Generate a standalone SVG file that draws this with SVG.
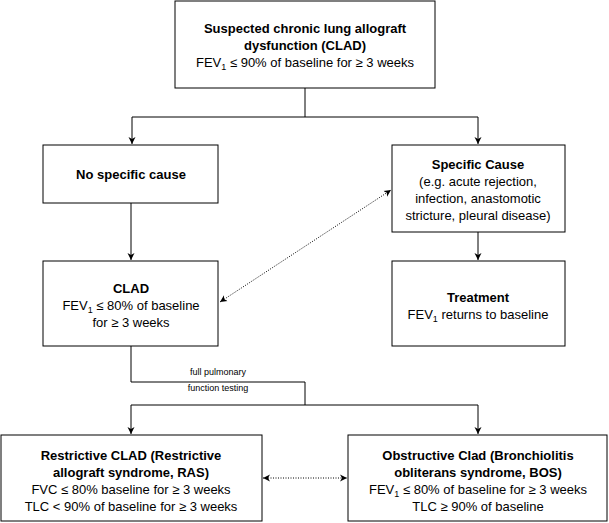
<svg xmlns="http://www.w3.org/2000/svg" width="609" height="523" viewBox="0 0 609 523">
<style>
.b{fill:#fff;stroke:#000;stroke-width:1}
text{font-family:"Liberation Sans",Arial,sans-serif;font-size:13px;text-anchor:middle;fill:#000}
.h{font-weight:bold}
.s{font-size:9px}
.c{fill:none;stroke:#000;stroke-width:1}
.d{fill:none;stroke:#000;stroke-width:1;stroke-dasharray:1,1.5}
.l{font-size:9px}
</style>
<defs>
<marker id="a" markerWidth="8" markerHeight="8" refX="7" refY="4" orient="auto" markerUnits="userSpaceOnUse"><path d="M0,0.5 L7,4 L0,7.5 L2,4 Z" fill="#000"/></marker>
<marker id="as" markerWidth="8" markerHeight="8" refX="1" refY="4" orient="auto" markerUnits="userSpaceOnUse"><path d="M8,0.5 L1,4 L8,7.5 L6,4 Z" fill="#000"/></marker>
</defs>
<g id="connectors">
<path class="c" d="M305,88 V117 M132,117 H478"/>
<path class="c" d="M132,117 V144" marker-end="url(#a)"/>
<path class="c" d="M478,117 V144" marker-end="url(#a)"/>
<path class="c" d="M131,203 V260" marker-end="url(#a)"/>
<path class="c" d="M478,232 V260" marker-end="url(#a)"/>
<path class="d" d="M220,302 L391,190" marker-start="url(#as)" marker-end="url(#a)"/>
<path class="c" d="M131,346 V382 H305 V405 M131,405 H478"/>
<path class="c" d="M131,405 V434" marker-end="url(#a)"/>
<path class="c" d="M478,405 V434" marker-end="url(#a)"/>
<path class="d" d="M263,478 H347" marker-start="url(#as)" marker-end="url(#a)"/>
<text class="l" x="218" y="375">full pulmonary</text>
<text class="l" x="218" y="391">function testing</text>
</g>
<g id="suspected"><rect class="b" x="175" y="1" width="260" height="87"/>
<text class="h" x="305" y="33">Suspected chronic lung allograft</text>
<text class="h" x="305" y="50">dysfunction (CLAD)</text>
<text x="305" y="67">FEV<tspan class="s" dy="3">1</tspan><tspan dy="-3"> ≤ 90% of baseline for ≥ 3 weeks</tspan></text></g>
<g id="nocause"><rect class="b" x="43" y="145" width="175" height="58"/>
<text class="h" x="131" y="179">No specific cause</text></g>
<g id="specific"><rect class="b" x="392" y="145" width="173" height="87"/>
<text class="h" x="478" y="169">Specific Cause</text>
<text x="478" y="186">(e.g. acute rejection,</text>
<text x="478" y="203">infection, anastomotic</text>
<text x="478" y="220">stricture, pleural disease)</text></g>
<g id="clad"><rect class="b" x="43" y="261" width="175" height="85"/>
<text class="h" x="131" y="293">CLAD</text>
<text x="131" y="310">FEV<tspan class="s" dy="3">1</tspan><tspan dy="-3"> ≤ 80% of baseline</tspan></text>
<text x="131" y="327">for ≥ 3 weeks</text></g>
<g id="treatment"><rect class="b" x="392" y="261" width="173" height="85"/>
<text class="h" x="478" y="302">Treatment</text>
<text x="478" y="319">FEV<tspan class="s" dy="3">1</tspan><tspan dy="-3"> returns to baseline</tspan></text></g>
<g id="ras"><rect class="b" x="1" y="435" width="261" height="86"/>
<text class="h" x="131" y="460">Restrictive CLAD (Restrictive</text>
<text class="h" x="131" y="477">allograft syndrome, RAS)</text>
<text x="131" y="494">FVC ≤ 80% baseline for ≥ 3 weeks</text>
<text x="131" y="511">TLC &lt; 90% of baseline for ≥ 3 weeks</text></g>
<g id="bos"><rect class="b" x="348" y="435" width="259" height="86"/>
<text class="h" x="478" y="460">Obstructive Clad (Bronchiolitis</text>
<text class="h" x="478" y="477">obliterans syndrome, BOS)</text>
<text x="478" y="494">FEV<tspan class="s" dy="3">1</tspan><tspan dy="-3"> ≤ 80% of baseline for ≥ 3 weeks</tspan></text>
<text x="478" y="511">TLC ≥ 90% of baseline</text></g>
</svg>
